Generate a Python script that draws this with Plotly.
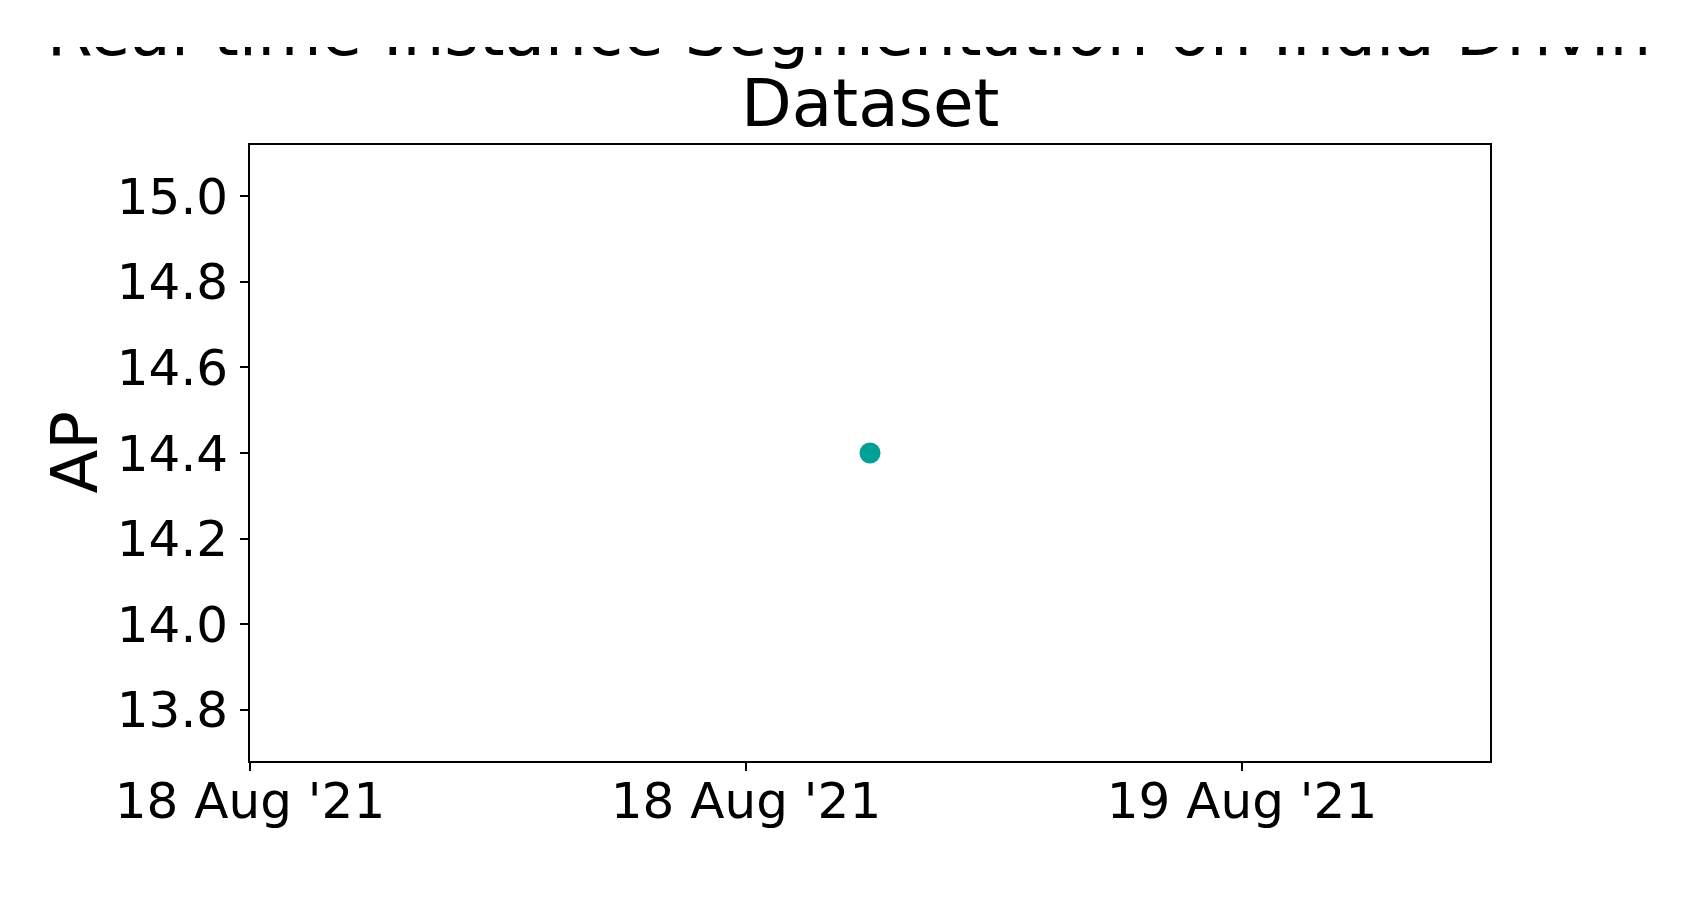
import plotly.graph_objects as go

# Data
dates = ["2021-08-18 15:00:00"]
ap_values = [14.4]
title_lines = ["Real-time Instance Segmentation on India Driving", "Dataset"]
y_label = "AP"
y_ticks = [13.8, 14.0, 14.2, 14.4, 14.6, 14.8, 15.0]
x_range = ["2021-08-18 00:00:00", "2021-08-19 06:00:00"]
y_range = [13.68, 15.12]

# Figure geometry (page has an 8px body margin, so figure is 8px smaller)
W, H = 1692, 892
L, T, PW, PH = 242, 137, 1240, 616


def fx(x):
    return x / W


def fy(y):
    return 1 - y / H


FONT = "DejaVu Sans"
TITLE_SIZE = 66

fig = go.Figure()
fig.add_trace(go.Scatter(
    x=dates, y=ap_values, mode="markers",
    marker=dict(size=21, color="#00A096"),
    showlegend=False, xaxis="x", yaxis="y",
))

# First title line, drawn in a clipping subplot so it is cut like the reference
clip_top, clip_bot, clip_l, clip_r = 39, 75, 42, 1642
fig.add_trace(go.Scatter(
    x=[(L + PW / 2 - clip_l) / (clip_r - clip_l)],
    y=[(clip_bot - 63.5) / (clip_bot - clip_top)],
    mode="text", text=[title_lines[0]], textposition="top center",
    textfont=dict(family=FONT, size=TITLE_SIZE, color="black"),
    cliponaxis=True, showlegend=False, hoverinfo="skip",
    xaxis="x2", yaxis="y2",
))

axis_common = dict(
    showline=True, linecolor="black", linewidth=1.7, mirror=True,
    ticks="outside", ticklen=8, tickwidth=1.7, tickcolor="black",
    showgrid=False, zeroline=False, automargin=False,
    tickfont=dict(family=FONT, size=50, color="black"),
)

fig.update_layout(
    template="none",
    xaxis=dict(
        domain=[fx(L), fx(L + PW)], anchor="y",
        type="date", range=x_range, tick0="2021-08-18", dtick=12 * 3600 * 1000,
        tickformat="%d %b '%y", ticklabelstandoff=-13, **axis_common,
    ),
    yaxis=dict(
        domain=[fy(T + PH), fy(T)], anchor="x",
        range=y_range, tickvals=y_ticks, tickformat=".1f", ticklabelstandoff=2,
        **axis_common,
    ),
    xaxis2=dict(domain=[fx(clip_l), fx(clip_r)], anchor="y2", range=[0, 1],
                visible=False, fixedrange=True, automargin=False),
    yaxis2=dict(domain=[fy(clip_bot), fy(clip_top)], anchor="x2", range=[0, 1],
                visible=False, fixedrange=True, automargin=False),
)

annotations = [
    dict(text=title_lines[1], x=fx(L + PW / 2), y=fy(95.1), xref="paper", yref="paper",
         xanchor="center", yanchor="middle", showarrow=False,
         font=dict(family=FONT, size=TITLE_SIZE, color="black")),
    dict(text=y_label, x=fx(66.5), y=fy(T + PH / 2), xref="paper", yref="paper",
         xanchor="center", yanchor="middle", showarrow=False, textangle=-90,
         font=dict(family=FONT, size=64, color="black")),
]

fig.update_layout(
    width=W, height=H,
    margin=dict(l=0, r=0, t=0, b=0, pad=0, autoexpand=False),
    paper_bgcolor="white", plot_bgcolor="white",
    annotations=annotations,
    font=dict(family=FONT, color="black"),
)

fig.write_html("out.html")
